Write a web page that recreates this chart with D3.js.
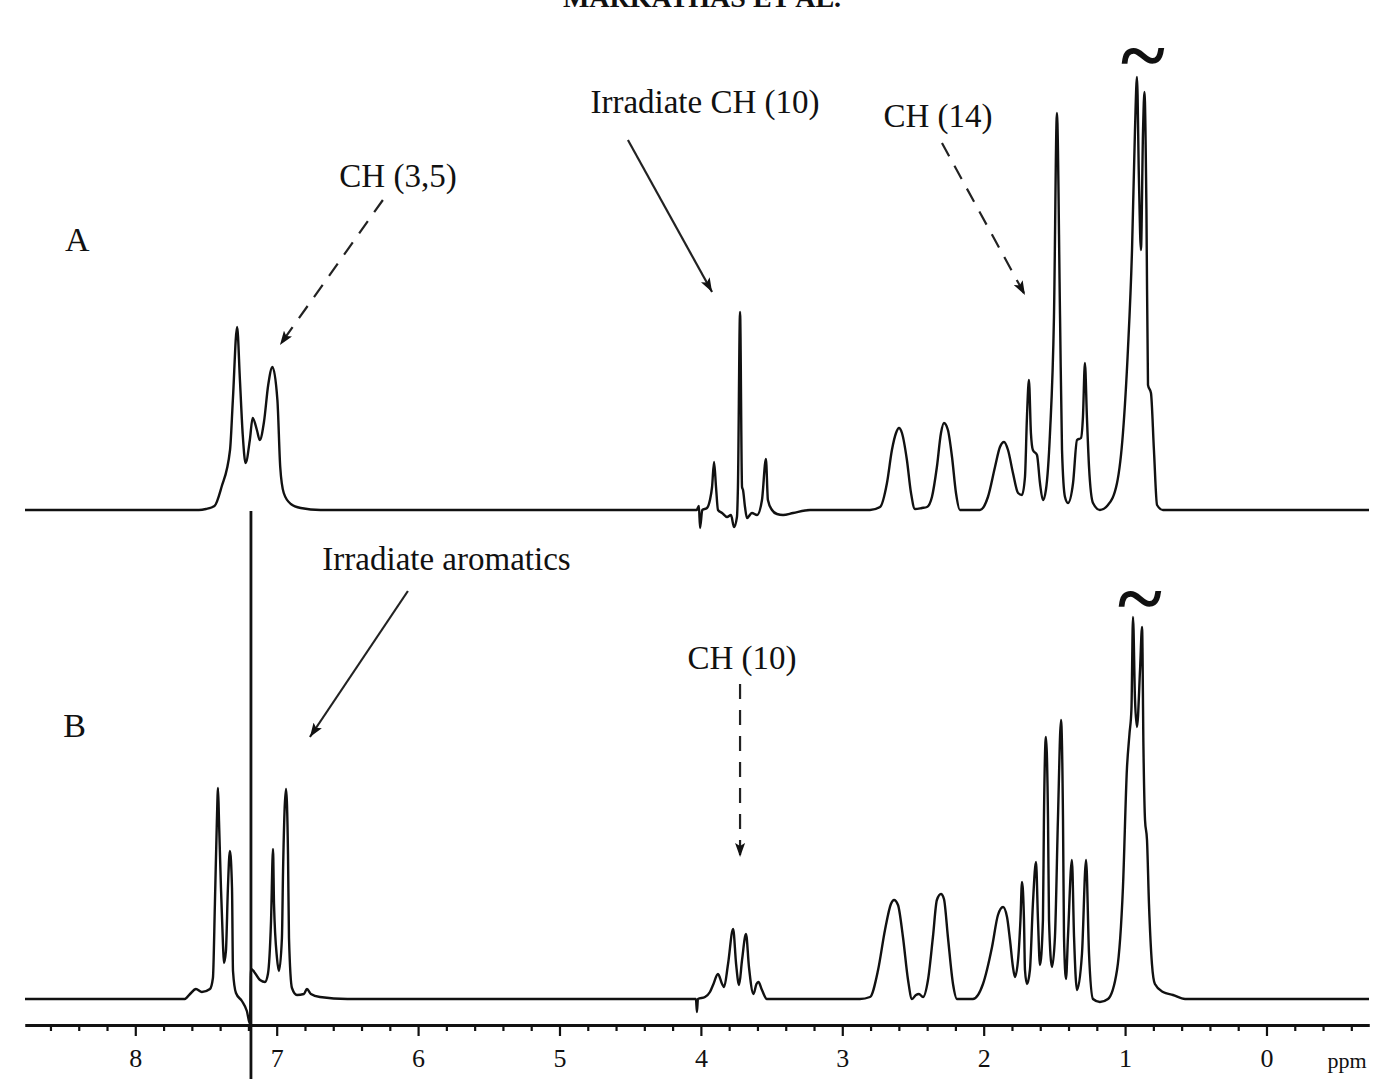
<!DOCTYPE html>
<html>
<head>
<meta charset="utf-8">
<script src="https://cdn.jsdelivr.net/npm/d3@7"></script>
<style>
  body { margin: 0; background: #fff; }
  svg text { font-family: "Liberation Serif", "DejaVu Serif", serif; fill: #111; }
</style>
</head>
<body>
<div id="chart"></div>
<script>
// spectrum traces: [chemical shift (ppm), intensity above baseline (arb. units)]
const spectrumA = [
  [8.78, 0], [7.55, 0], [7.50, 1], [7.44, 4], [7.39, 23], [7.33, 60], [7.31, 110],
  [7.28, 183], [7.26, 130], [7.24, 75], [7.22, 47], [7.19, 70], [7.17, 92], [7.14, 80],
  [7.12, 70], [7.09, 88], [7.06, 125], [7.03, 143], [6.995, 110], [6.975, 43], [6.95, 17],
  [6.90, 6], [6.83, 2], [6.69, 0],
  [4.05, 0], [4.03, 0], [4.014, 4], [4.006, -18], [3.99, 0], [3.957, 2], [3.936, 10],
  [3.921, 23], [3.907, 48], [3.893, 23], [3.879, 0], [3.850, -3], [3.815, -7], [3.787, -5],
  [3.766, -17], [3.745, -7], [3.738, 23], [3.723, 198], [3.709, 23], [3.702, 20], [3.688, 3],
  [3.674, -8], [3.639, -3], [3.603, -5], [3.568, 10], [3.540, 51], [3.526, 10], [3.497, 0],
  [3.462, -4], [3.419, -5], [3.348, -3], [3.228, 0],
  [2.804, 0], [2.733, 3], [2.684, 27], [2.649, 60], [2.620, 77], [2.599, 82], [2.578, 77],
  [2.543, 50], [2.514, 17], [2.486, 1], [2.437, 2], [2.401, 3], [2.366, 13], [2.331, 43],
  [2.302, 77], [2.281, 87], [2.253, 80], [2.224, 53], [2.196, 17], [2.168, 0],
  [2.026, 0], [1.970, 13], [1.920, 43], [1.885, 63], [1.856, 68], [1.828, 60], [1.793, 37],
  [1.757, 17], [1.729, 15], [1.708, 33], [1.694, 93], [1.680, 130], [1.666, 77], [1.652, 60],
  [1.623, 55], [1.602, 27], [1.581, 10], [1.560, 20], [1.531, 77], [1.503, 193], [1.482, 397],
  [1.460, 193], [1.446, 60], [1.425, 13], [1.404, 7], [1.368, 27], [1.340, 70], [1.312, 72],
  [1.298, 93], [1.284, 147], [1.270, 93], [1.255, 43], [1.227, 7], [1.178, 0],
  [1.121, 5], [1.057, 27], [1.015, 77], [0.980, 160], [0.951, 260], [0.930, 380], [0.916, 433],
  [0.902, 330], [0.888, 260], [0.873, 380], [0.863, 418], [0.849, 300], [0.838, 125],
  [0.817, 117], [0.796, 60], [0.774, 5], [0.732, 0], [-0.725, 0]
];

const spectrumB = [
  [8.78, 0], [7.65, 0], [7.613, 5], [7.571, 10], [7.529, 7], [7.472, 10], [7.451, 21],
  [7.437, 95], [7.423, 178], [7.415, 211], [7.408, 178], [7.394, 111], [7.380, 55], [7.373, 36],
  [7.359, 48], [7.345, 111], [7.331, 148], [7.316, 111], [7.309, 28], [7.288, 6], [7.246, -2],
  [7.211, -12], [7.189, -25], [7.182, 30], [7.118, 19], [7.083, 17], [7.062, 25], [7.040, 78],
  [7.026, 150], [7.019, 95], [6.998, 41], [6.984, 28], [6.963, 61], [6.955, 128], [6.934, 210],
  [6.920, 145], [6.913, 61], [6.892, 11], [6.857, 4], [6.808, 5], [6.786, 10], [6.758, 5],
  [6.694, 2], [6.50, 0],
  [4.056, 0], [4.035, 0], [4.028, -13], [4.021, 0], [3.971, 2], [3.936, 7], [3.914, 14],
  [3.879, 25], [3.850, 15], [3.836, 12], [3.808, 35], [3.772, 70], [3.751, 35], [3.730, 14],
  [3.709, 39], [3.681, 65], [3.660, 32], [3.628, 5], [3.607, 15], [3.593, 17], [3.568, 9],
  [3.533, 0], [3.441, 0],
  [2.875, 0], [2.804, 2], [2.747, 29], [2.698, 69], [2.656, 95], [2.634, 99], [2.606, 94],
  [2.571, 62], [2.535, 19], [2.507, 0], [2.479, 4], [2.458, 5], [2.429, 2], [2.394, 19],
  [2.359, 62], [2.331, 99], [2.302, 105], [2.281, 100], [2.253, 62], [2.217, 15], [2.189, 0],
  [2.076, 0], [2.005, 15], [1.941, 52], [1.899, 84], [1.863, 92], [1.835, 82], [1.814, 59],
  [1.793, 32], [1.779, 22], [1.757, 39], [1.740, 79], [1.729, 117], [1.715, 79], [1.708, 29],
  [1.694, 15], [1.673, 29], [1.652, 95], [1.630, 137], [1.616, 79], [1.602, 34], [1.581, 79],
  [1.574, 179], [1.560, 262], [1.545, 179], [1.538, 79], [1.517, 32], [1.496, 62], [1.475, 179],
  [1.453, 279], [1.439, 179], [1.432, 62], [1.418, 20], [1.404, 62], [1.376, 139], [1.361, 62],
  [1.340, 9], [1.305, 45], [1.276, 139], [1.255, 45], [1.227, 0], [1.178, -3], [1.121, 0],
  [1.057, 29], [1.015, 112], [0.987, 230], [0.969, 265], [0.955, 290], [0.944, 382],
  [0.930, 300], [0.916, 272], [0.894, 330], [0.880, 372], [0.870, 250], [0.859, 179],
  [0.845, 159], [0.831, 95], [0.810, 35], [0.789, 15], [0.732, 7], [0.661, 4], [0.576, 0],
  [-0.725, 0]
];

// irradiation spike in B (ppm, top and bottom in B intensity units)
const irradiation = [{ ppm: 7.182, top: 488, bottom: -80 }];

const majorTicks = [8, 7, 6, 5, 4, 3, 2, 1, 0];
const minorTicks = d3.range(-3, 44).map(i => +(i * 0.2).toFixed(1)).filter(v => !Number.isInteger(v));

const panelLabels = [
  { text: "A", spectrum: "A", ppm: 8.41, level: 259 },
  { text: "B", spectrum: "B", ppm: 8.43, level: 262 }
];
const notes = [
  { text: "CH (3,5)", spectrum: "A", ppm: 6.142, level: 323 },
  { text: "Irradiate CH (10)", spectrum: "A", ppm: 3.971, level: 397 },
  { text: "CH (14)", spectrum: "A", ppm: 2.323, level: 383 },
  { text: "Irradiate aromatics", spectrum: "B", ppm: 5.799, level: 429 },
  { text: "CH (10)", spectrum: "B", ppm: 3.709, level: 330 }
];
const arrows = [
  { spectrum: "A", from: [6.249, 310], to: [6.977, 165], dashed: true },
  { spectrum: "A", from: [4.516, 370], to: [3.921, 218], dashed: false },
  { spectrum: "A", from: [2.295, 367], to: [1.708, 215], dashed: true },
  { spectrum: "B", from: [6.072, 408], to: [6.765, 262], dashed: false },
  { spectrum: "B", from: [3.723, 315], to: [3.723, 142], dashed: true }
];
// "~" marks over the truncated methyl peaks
const breaks = [
  { spectrum: "A", ppm: 0.873, level: 448 },
  { spectrum: "B", ppm: 0.895, level: 394 }
];

const width = 1388;
const height = 1089;
const axisY = 1025;

const svg = d3.select("#chart").append("svg")
  .attr("width", width)
  .attr("height", height);

//----------------------------------------------------------------scales
const x = d3.scaleLinear().domain([8.78, -0.725]).range([25, 1369]);
const y = {
  A: d3.scaleLinear().domain([0, 400]).range([510, 110]),
  B: d3.scaleLinear().domain([0, 400]).range([999, 599])
};

//----------------------------------------------------------------header (cut off at the top, as in the scan)
svg.append("text")
  .attr("x", 702)
  .attr("y", 7)
  .attr("text-anchor", "middle")
  .attr("font-weight", "bold")
  .attr("font-size", 28)
  .text("MARKATHAS ET AL.");

//----------------------------------------------------------------spectra
const traces = [{ key: "A", data: spectrumA }, { key: "B", data: spectrumB }];

traces.forEach(t => {
  const line = d3.line()
    .x(d => x(d[0]))
    .y(d => y[t.key](d[1]))
    .curve(d3.curveMonotoneX);

  svg.append("path")
    .datum(t.data)
    .attr("fill", "none")
    .attr("stroke", "#111")
    .attr("stroke-width", 2.4)
    .attr("stroke-linejoin", "round")
    .attr("d", line);
});

svg.selectAll("line.irr")
  .data(irradiation)
  .enter().append("line")
  .attr("class", "irr")
  .attr("x1", d => x(d.ppm))
  .attr("x2", d => x(d.ppm))
  .attr("y1", d => y.B(d.top))
  .attr("y2", d => y.B(d.bottom))
  .attr("stroke", "#111")
  .attr("stroke-width", 2.8);

//----------------------------------------------------------------axis
const minorAxis = d3.axisBottom(x).tickValues(minorTicks).tickSize(6).tickSizeOuter(0).tickFormat("");
const majorAxis = d3.axisBottom(x).tickValues(majorTicks).tickSize(11).tickSizeOuter(0)
  .tickPadding(13).tickFormat(d3.format("d"));

const gMinor = svg.append("g").attr("transform", "translate(0," + axisY + ")").call(minorAxis);
const gMajor = svg.append("g").attr("transform", "translate(0," + axisY + ")").call(majorAxis);

[gMinor, gMajor].forEach(g => {
  g.select(".domain").attr("stroke", "#111").attr("stroke-width", 2.8);
  g.selectAll(".tick line").attr("stroke", "#111").attr("stroke-width", 2.2);
});
gMajor.selectAll(".tick text")
  .attr("font-size", 26)
  .attr("font-family", "Liberation Serif")
  .attr("fill", "#111");

svg.append("text")
  .attr("x", 1347)
  .attr("y", 1068)
  .attr("text-anchor", "middle")
  .attr("font-size", 22)
  .text("ppm");

//----------------------------------------------------------------labels
svg.selectAll("text.panel")
  .data(panelLabels)
  .enter().append("text")
  .attr("class", "panel")
  .attr("x", d => x(d.ppm))
  .attr("y", d => y[d.spectrum](d.level))
  .attr("text-anchor", "middle")
  .attr("font-size", 34)
  .text(d => d.text);

svg.selectAll("text.note")
  .data(notes)
  .enter().append("text")
  .attr("class", "note")
  .attr("x", d => x(d.ppm))
  .attr("y", d => y[d.spectrum](d.level))
  .attr("text-anchor", "middle")
  .attr("font-size", 33)
  .text(d => d.text);

//----------------------------------------------------------------arrows
svg.append("defs").append("marker")
  .attr("id", "head")
  .attr("viewBox", "0 0 14 10")
  .attr("refX", 14)
  .attr("refY", 5)
  .attr("markerWidth", 14)
  .attr("markerHeight", 10)
  .attr("markerUnits", "userSpaceOnUse")
  .attr("orient", "auto")
  .append("path")
  .attr("d", "M0,0 L14,5 L0,10 L3,5 Z")
  .attr("fill", "#111");

svg.selectAll("line.arrow")
  .data(arrows)
  .enter().append("line")
  .attr("class", "arrow")
  .attr("x1", d => x(d.from[0]))
  .attr("y1", d => y[d.spectrum](d.from[1]))
  .attr("x2", d => x(d.to[0]))
  .attr("y2", d => y[d.spectrum](d.to[1]))
  .attr("stroke", "#222")
  .attr("stroke-width", 2.2)
  .attr("stroke-dasharray", d => d.dashed ? "15,11" : null)
  .attr("marker-end", "url(#head)");

svg.selectAll("text.break")
  .data(breaks)
  .enter().append("text")
  .attr("class", "break")
  .attr("x", d => x(d.ppm))
  .attr("y", d => y[d.spectrum](d.level) + 22)
  .attr("text-anchor", "middle")
  .attr("font-size", 84)
  .attr("stroke", "#111")
  .attr("stroke-width", 1.6)
  .text("~");
</script>
</body>
</html>
